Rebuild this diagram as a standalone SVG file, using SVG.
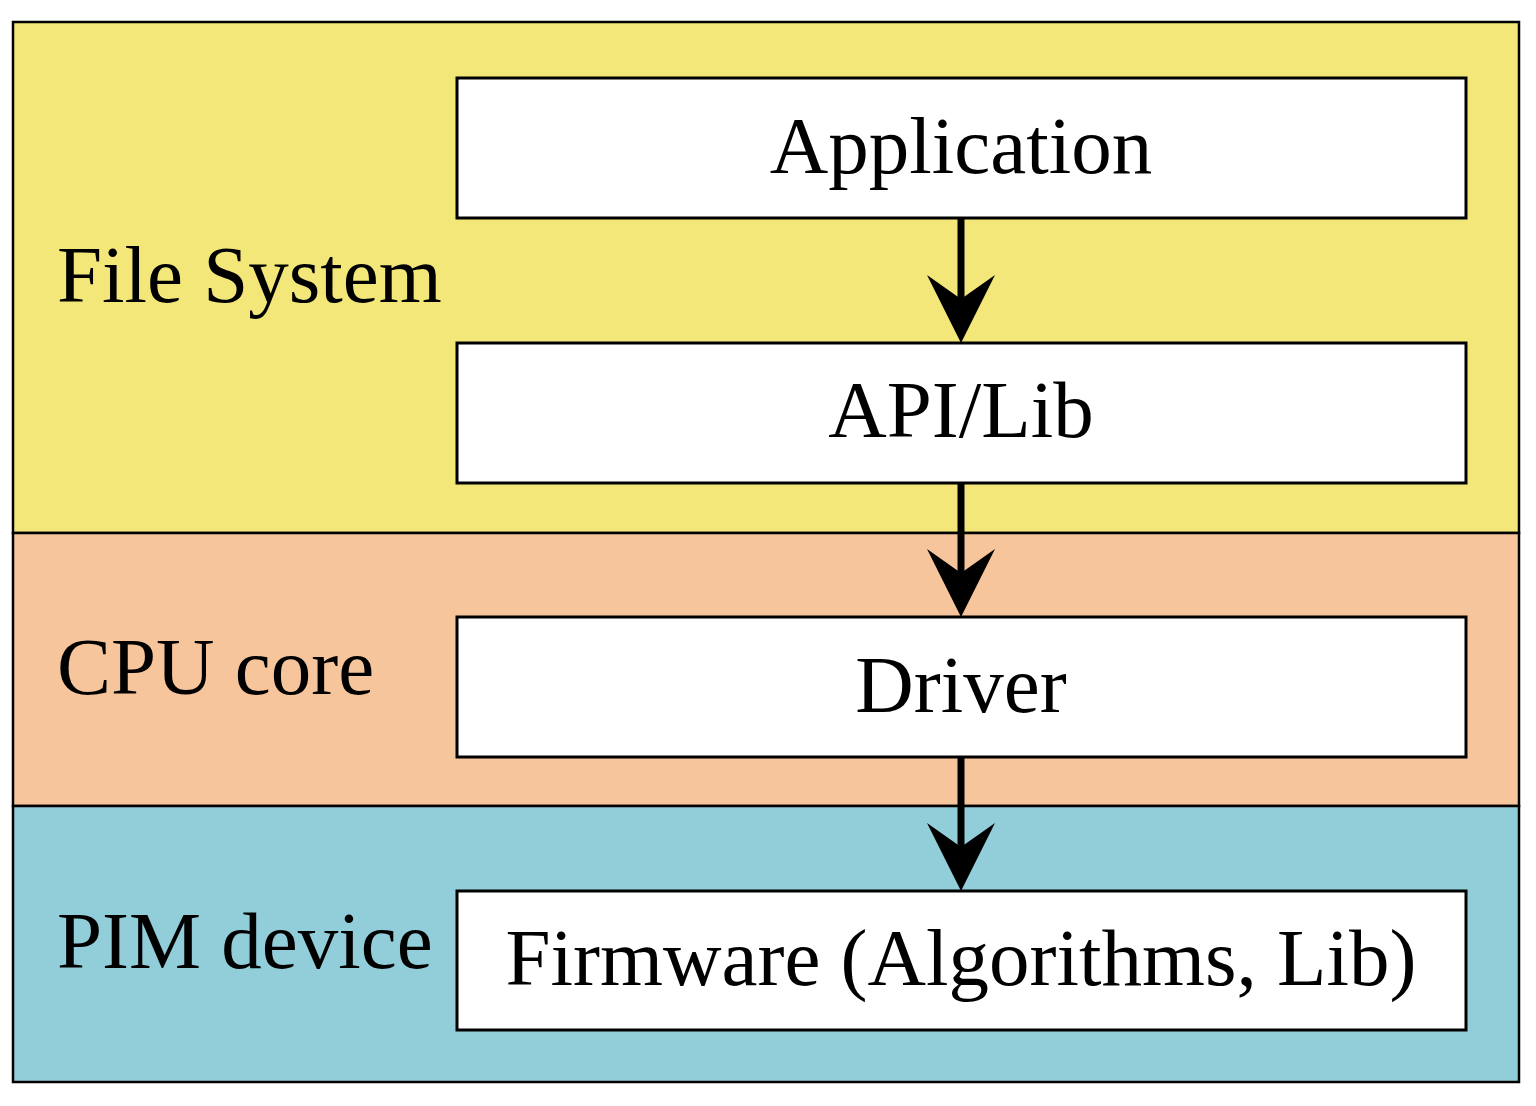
<svg xmlns="http://www.w3.org/2000/svg" width="1536" height="1106" viewBox="0 0 1536 1106">
<style>
.band{stroke:#000;stroke-width:2.5}
.box{fill:#fff;stroke:#000;stroke-width:3}
text{font-family:"Liberation Serif","Times New Roman",serif;font-size:81px;fill:#000}
.c{text-anchor:middle}
.conn{stroke:#000;stroke-width:7;fill:none}
</style>
<defs><polygon id="head" points="-34,0 0,24 34,0 0,68" fill="#000"/></defs>
<rect width="1536" height="1106" fill="#fff"/>
<g id="fs"><rect class="band" x="13" y="22" width="1506" height="511" fill="#F3E779"/><text x="57" y="302">File System</text></g>
<g id="cpu"><rect class="band" x="13" y="533" width="1506" height="273" fill="#F7C59B"/><text x="57" y="694">CPU core</text></g>
<g id="pim"><rect class="band" x="13" y="806" width="1506" height="276" fill="#92CDDA"/><text x="57" y="968">PIM device</text></g>
<g id="app"><rect class="box" x="457" y="78" width="1009" height="140"/><text class="c" x="961" y="173">Application</text></g>
<g id="api"><rect class="box" x="457" y="343" width="1009" height="140"/><text class="c" x="961" y="437">API/Lib</text></g>
<g id="drv"><rect class="box" x="457" y="617" width="1009" height="140"/><text class="c" x="961" y="712">Driver</text></g>
<g id="fw"><rect class="box" x="457" y="891" width="1009" height="139"/><text class="c" x="961" y="985">Firmware (Algorithms, Lib)</text></g>
<g id="connectors">
<line class="conn" x1="961" y1="218" x2="961" y2="300"/><use href="#head" x="961" y="275"/>
<line class="conn" x1="961" y1="483" x2="961" y2="574"/><use href="#head" x="961" y="549"/>
<line class="conn" x1="961" y1="757" x2="961" y2="848"/><use href="#head" x="961" y="823"/>
</g>
</svg>
